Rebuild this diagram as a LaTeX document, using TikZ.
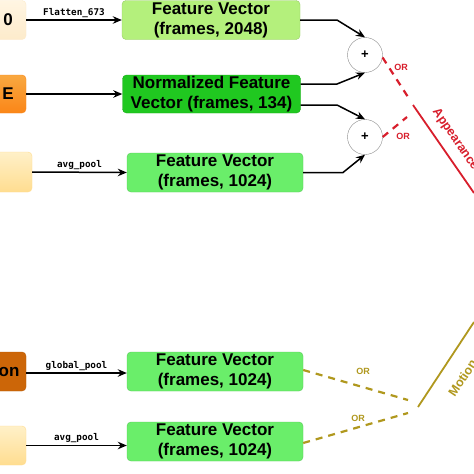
\documentclass[tikz,border=0pt]{standalone}
\usepackage{fontspec}
\setmainfont{Liberation Sans}
\newfontfamily\monof{DejaVu Sans Mono}
\usetikzlibrary{arrows.meta}
\definecolor{fvlight}{HTML}{B4F07C}
\definecolor{fvdark}{HTML}{20C820}
\definecolor{fvmid}{HTML}{6AEE6A}
\definecolor{redc}{HTML}{D81E2C}
\definecolor{olivec}{HTML}{B0981E}
\definecolor{creamt}{HTML}{FFF5E2}
\definecolor{creamb}{HTML}{FDEBCB}
\definecolor{orat}{HTML}{F9A840}
\definecolor{orab}{HTML}{FA8618}
\definecolor{yelt}{HTML}{FFF0C8}
\definecolor{yelb}{HTML}{FFDD90}
\definecolor{brownc}{HTML}{CC6608}
\begin{document}
\begin{tikzpicture}[x=1pt,y=-1pt,
  fv/.style={rounded corners=4pt, minimum width=178pt, minimum height=39pt, inner sep=0pt, align=center,
    font=\fontsize{17}{20}\selectfont\bfseries},
  srcbox/.style={rounded corners=4pt, inner sep=0pt, minimum height=39pt,
    font=\fontsize{17}{20}\selectfont\bfseries},
  arr/.style={-{Stealth[length=9pt,width=7.5pt]}, line width=1.5pt},
  lbl/.style={font=\monof\bfseries\fontsize{9.3}{10}\selectfont, inner sep=2pt},
  plus/.style={circle, draw=black!45, fill=white, minimum size=35pt, inner sep=0pt, font=\fontsize{13}{13}\selectfont\bfseries},
  ortext/.style={font=\fontsize{9}{9}\selectfont\bfseries, inner sep=0pt},
  reddash/.style={draw=redc, line width=2.2pt, dash pattern=on 7pt off 6pt},
  redline/.style={draw=redc, line width=1.8pt},
  olidash/.style={draw=olivec, line width=2.2pt, dash pattern=on 7pt off 6pt},
  oliline/.style={draw=olivec, line width=1.8pt},
  feat/.style={font=\fontsize{12.5}{13}\selectfont\bfseries, inner sep=0pt}]
\useasboundingbox (0,0) rectangle (474,474);
\fill[white] (0,0) rectangle (474,474);

% source boxes (clipped at left edge)
\node[srcbox, minimum width=36pt, top color=creamt, bottom color=creamb, draw=creamb] (A) at (8,20) {0};
\node[srcbox, minimum width=36pt, minimum height=38pt, top color=orat, bottom color=orab, draw=orab] (B) at (8,94) {E};
\node[srcbox, minimum width=42pt, minimum height=40pt, top color=yelt, bottom color=yelb, draw=yelb] (C) at (11,172) {};
\node[srcbox, minimum width=34pt, fill=brownc, draw=brownc!90!black] (D) at (9,371.5) {on};
\node[srcbox, minimum width=36pt, top color=yelt, bottom color=yelb, draw=yelb] (E) at (8,445.5) {};

% feature vectors
\node[fv, fill=fvlight, draw=fvlight!85!black] (F1) at (211,20) {Feature Vector\\(frames, 2048)};
\node[fv, fill=fvdark, draw=fvdark!85!black, minimum height=38pt] (F2) at (211.5,94) {Normalized Feature\\Vector (frames, 134)};
\node[fv, fill=fvmid, draw=fvmid!85!black, minimum width=176pt] (F3) at (215,172.5) {Feature Vector\\(frames, 1024)};
\node[fv, fill=fvmid, draw=fvmid!85!black, minimum width=176pt] (F4) at (215,371.5) {Feature Vector\\(frames, 1024)};
\node[fv, fill=fvmid, draw=fvmid!85!black, minimum width=176pt] (F5) at (215,441.5) {Feature Vector\\(frames, 1024)};

% input arrows
\draw[arr] (A.east) -- node[lbl, above] {Flatten\_673} (F1.west);
\draw[arr] (B.east) -- (F2.west);
\draw[arr] (C.east) -- node[lbl, above] {avg\_pool} (F3.west);
\draw[arr] ([yshift=-1.5pt]D.east) -- node[lbl, above] {global\_pool} ([yshift=-1.5pt]D.east -| F4.west);
\draw[arr] (E.east) -- node[lbl, above] {avg\_pool} (E.east -| F5.west);

% plus circles
\node[plus] (P1) at (365,55) {+};
\node[plus] (P2) at (365,137) {+};

\draw[arr] (F1.east) -- (337,20) -- (P1.north);
\draw[arr] ([yshift=10pt]F2.east) -- (337,84) -- (P1.south);
\draw[arr] ([yshift=-11pt]F2.east) -- (337,105) -- (P2.north);
\draw[arr] (F3.east) -- (343,172.5) -- (P2.south);

% appearance branch
\coordinate (ja) at (408,97);
\coordinate (jb) at (407,117);
\coordinate (as) at (413,105);
\coordinate (ae) at (474,193);
\draw[reddash] (P1.-8) -- (ja);
\draw[reddash] (P2.east) -- (jb);
\draw[redline] (as) -- (ae);
\node[ortext, text=redc] (or1) at (401,67) {OR};
\node[ortext, text=redc] (or2) at (403,136) {OR};
\node[feat, text=redc, rotate=-55.5, anchor=south west] (app) at (430,113) {Appearance};

% motion branch
\coordinate (ma) at (408,400);
\coordinate (mb) at (408,413);
\coordinate (ms) at (418,407);
\coordinate (me) at (474,322);
\draw[olidash] ([yshift=1.5pt]F4.east) -- (ma);
\draw[olidash] ([yshift=-1.5pt]F5.east) -- (mb);
\draw[oliline] (ms) -- (me);
\node[ortext, text=olivec] (or3) at (363,371) {OR};
\node[ortext, text=olivec] (or4) at (358,418) {OR};
\node[feat, text=olivec, rotate=56.5, anchor=south west] (mot) at (455,398) {Motion};
\end{tikzpicture}
\end{document}
